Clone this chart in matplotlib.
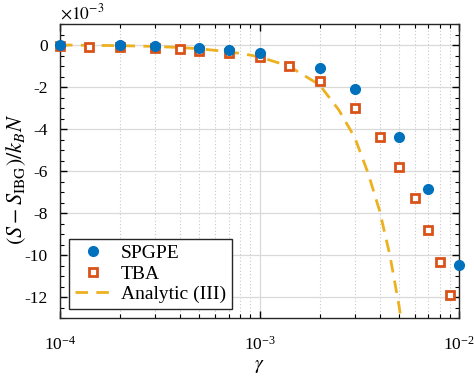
import numpy as np
import matplotlib
matplotlib.use('Agg')
import matplotlib.pyplot as plt
from matplotlib.ticker import MultipleLocator, LogLocator, NullFormatter

plt.rcParams['font.family'] = ['Liberation Serif', 'DejaVu Serif']
plt.rcParams['mathtext.fontset'] = 'stix'
plt.rcParams['axes.unicode_minus'] = False
plt.rcParams['font.size'] = 12

# data (values in units of 1e-3)
spgpe_g = [1e-4, 2e-4, 3e-4, 5e-4, 7e-4, 1e-3, 2e-3, 3e-3, 5e-3, 7e-3, 1e-2]
spgpe_s = [0.0, -0.02, -0.05, -0.16, -0.24, -0.37, -1.11, -2.08, -4.38, -6.84, -10.49]

tba_g = [1e-4, 1.4e-4, 2e-4, 3e-4, 4e-4, 5e-4, 7e-4, 1e-3, 1.4e-3, 2e-3, 3e-3,
         4e-3, 5e-3, 6e-3, 7e-3, 8e-3, 9e-3]
tba_s = [-0.05, -0.08, -0.11, -0.15, -0.19, -0.27, -0.38, -0.59, -0.98, -1.70, -2.98,
         -4.37, -5.79, -7.27, -8.81, -10.35, -11.92]

an_g = [1e-4, 2e-4, 3e-4, 4e-4, 5e-4, 7e-4, 9e-4, 1e-3, 1.4e-3, 2e-3, 2.5e-3,
        3e-3, 3.5e-3, 4e-3, 4.5e-3, 5e-3, 5.2e-3]
an_s = [0.0, -0.03, -0.07, -0.12, -0.18, -0.32, -0.48, -0.57, -1.0, -1.9, -3.1,
        -4.4, -6.1, -7.9, -10.0, -12.4, -13.5]

blue = '#0072BD'
red = '#D95319'
yel = '#EDB120'

fig = plt.figure(figsize=(4.74, 3.78), dpi=100)
ax = fig.add_axes([0.1266, 0.1587, 0.8418, 0.7778])

ax.plot(spgpe_g, spgpe_s, 'o', color=blue, ms=7, mec=blue, label='SPGPE', zorder=4, clip_on=False)
ax.plot(tba_g, tba_s, 's', color=red, mfc='white', mec=red, mew=2, ms=6.2, label='TBA', zorder=3, clip_on=False)
ax.plot(an_g, an_s, '--', color=yel, lw=2, dashes=(4.5, 3), label='Analytic (III)', zorder=2)

ax.set_xscale('log')
ax.set_xlim(1e-4, 1e-2)
ax.set_ylim(-13, 1)
ax.yaxis.set_major_locator(MultipleLocator(2))
ax.yaxis.set_minor_locator(MultipleLocator(0.5))
ax.xaxis.set_minor_locator(LogLocator(base=10, subs=np.arange(2, 10)))
ax.xaxis.set_minor_formatter(NullFormatter())

ax.grid(True, which='major', color='#d9d9d9', lw=0.9, ls='-')
ax.grid(True, which='minor', axis='x', color='#c8c8c8', lw=0.8, ls=(0, (1, 2)))
ax.set_axisbelow(True)

ax.tick_params(which='both', direction='in', top=True, right=True, labelsize=12.5)
ax.tick_params(which='major', length=5, width=1)
ax.tick_params(which='minor', length=3, width=0.8)
ax.tick_params(axis='x', which='major', pad=13)
ax.tick_params(axis='y', which='major', pad=9)
for sp in ax.spines.values():
    sp.set_linewidth(1)
    sp.set_color('#262626')

ax.set_xlabel(r'$\gamma$', fontsize=14, labelpad=3)
ax.set_ylabel(r'$(S - S_{\rm IBG})/k_B N$', fontsize=16)
ax.yaxis.set_label_coords(-0.08, 0.47)
ax.text(0.0, 1.005, r'$\times 10^{-3}$', transform=ax.transAxes, fontsize=12.5,
        ha='left', va='bottom')

leg = ax.legend(loc='lower left', bbox_to_anchor=(0.0226, 0.0306), borderaxespad=0,
                fancybox=False, edgecolor='#262626', framealpha=1, fontsize=14,
                handlelength=1.9, borderpad=0.3, labelspacing=0.15, handletextpad=0.45)
leg.get_frame().set_linewidth(1)

fig.savefig('out.png', dpi=100)
